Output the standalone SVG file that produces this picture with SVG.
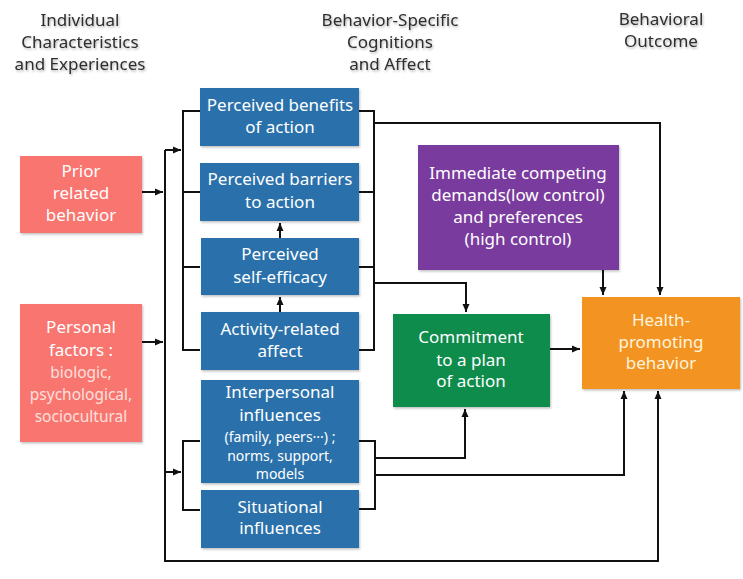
<svg xmlns="http://www.w3.org/2000/svg" width="743" height="579" viewBox="0 0 743 579">
<defs>
<marker id="ah" markerWidth="8" markerHeight="8" refX="8" refY="4" orient="auto" markerUnits="userSpaceOnUse">
<path d="M0,0.5 L8,4 L0,7.5 z" fill="#111"/>
</marker>
<filter id="sh" x="-10%" y="-10%" width="120%" height="120%">
<feDropShadow dx="1" dy="1.5" stdDeviation="1.2" flood-color="#000" flood-opacity="0.25"/>
</filter>
<filter id="tsh" x="-10%" y="-30%" width="120%" height="160%">
<feDropShadow dx="1" dy="1.5" stdDeviation="1" flood-color="#000" flood-opacity="0.3"/>
</filter>
<style>
text{font-family:"Noto Sans","Liberation Sans",sans-serif;text-anchor:middle}
.hd{font-size:17px;fill:#2e2e2e;filter:url(#tsh)}
.bt{font-size:17px;fill:#fff}
.sm{font-size:14px;fill:#fff}
.pk{font-size:15.5px;fill:#fde0dd}
.box{filter:url(#sh)}
.salmon{fill:#F8756F}
.blue{fill:#2B71AB}
.green{fill:#0C8C4C}
.orange{fill:#F39322}
.purple{fill:#7A3B9E}
.ln{fill:none;stroke:#111;stroke-width:2}
.ar{fill:none;stroke:#111;stroke-width:2;marker-end:url(#ah)}
</style>
</defs>
<rect width="743" height="579" fill="#fff"/>

<g id="headers">
<text class="hd" x="80" y="26">Individual</text>
<text class="hd" x="80" y="48">Characteristics</text>
<text class="hd" x="80" y="70">and Experiences</text>
<text class="hd" x="390" y="26">Behavior-Specific</text>
<text class="hd" x="390" y="48">Cognitions</text>
<text class="hd" x="390" y="70">and Affect</text>
<text class="hd" x="661" y="25">Behavioral</text>
<text class="hd" x="661" y="47">Outcome</text>
</g>

<g id="connectors">
<path class="ar" d="M142,192 H163"/>
<path class="ar" d="M142,342 H163"/>
<path class="ar" d="M165,150 V561 H658 V391"/>
<path class="ar" d="M165,150 H181"/>
<path class="ar" d="M165,472 H181"/>
<path class="ln" d="M200,111 H183 V350 H200 M183,192 H200 M183,267 H200"/>
<path class="ln" d="M200,441 H183 V510 H200"/>
<path class="ln" d="M359,111 H374 V350 H359 M359,192 H374 M359,267 H374"/>
<path class="ar" d="M374,123 H660 V295"/>
<path class="ar" d="M374,283 H466 V312"/>
<path class="ar" d="M603,270 V295"/>
<path class="ar" d="M280,238 V223"/>
<path class="ar" d="M280,312 V297"/>
<path class="ar" d="M550,349 H580"/>
<path class="ln" d="M359,441 H375 V509 H359"/>
<path class="ar" d="M375,458 H465 V409"/>
<path class="ar" d="M375,475 H624 V391"/>
</g>

<g id="prior">
<rect class="box salmon" x="20" y="156" width="122" height="77"/>
<text class="bt" x="81" y="177">Prior</text>
<text class="bt" x="81" y="199">related</text>
<text class="bt" x="81" y="221">behavior</text>
</g>

<g id="personal">
<rect class="box salmon" x="20" y="304" width="122" height="138"/>
<text class="bt" x="81" y="333">Personal</text>
<text class="bt" x="81" y="356">factors :</text>
<text class="pk" x="81" y="378">biologic,</text>
<text class="pk" x="81" y="400">psychological,</text>
<text class="pk" x="81" y="422">sociocultural</text>
</g>

<g id="benefits">
<rect class="box blue" x="200" y="88" width="159" height="58"/>
<text class="bt" x="280" y="111">Perceived benefits</text>
<text class="bt" x="280" y="133">of action</text>
</g>

<g id="barriers">
<rect class="box blue" x="200" y="163" width="159" height="58"/>
<text class="bt" x="280" y="185">Perceived barriers</text>
<text class="bt" x="280" y="208">to action</text>
</g>

<g id="selfefficacy">
<rect class="box blue" x="201" y="238" width="158" height="57"/>
<text class="bt" x="280" y="260">Perceived</text>
<text class="bt" x="280" y="283">self-efficacy</text>
</g>

<g id="activity">
<rect class="box blue" x="201" y="312" width="158" height="58"/>
<text class="bt" x="280" y="335">Activity-related</text>
<text class="bt" x="280" y="357">affect</text>
</g>

<g id="interpersonal">
<rect class="box blue" x="201" y="380" width="158" height="103"/>
<text class="bt" x="280" y="398">Interpersonal</text>
<text class="bt" x="280" y="421">influences</text>
<text class="sm" x="280" y="442">(family, peers···) ;</text>
<text class="sm" x="280" y="461">norms, support,</text>
<text class="sm" x="280" y="479">models</text>
</g>

<g id="situational">
<rect class="box blue" x="201" y="490" width="158" height="58"/>
<text class="bt" x="280" y="513">Situational</text>
<text class="bt" x="280" y="534">influences</text>
</g>

<g id="competing">
<rect class="box purple" x="418" y="145" width="201" height="125"/>
<text class="bt" x="518" y="179">Immediate competing</text>
<text class="bt" x="518" y="201">demands(low control)</text>
<text class="bt" x="518" y="223">and preferences</text>
<text class="bt" x="518" y="245">(high control)</text>
</g>

<g id="commitment">
<rect class="box green" x="393" y="314" width="157" height="93"/>
<text class="bt" x="471" y="343">Commitment</text>
<text class="bt" x="471" y="366">to a plan</text>
<text class="bt" x="471" y="387">of action</text>
</g>

<g id="health">
<rect class="box orange" x="582" y="297" width="158" height="92"/>
<text class="bt" x="661" y="326" style="fill:#fff3dc">Health-</text>
<text class="bt" x="661" y="348" style="fill:#fff3dc">promoting</text>
<text class="bt" x="661" y="369" style="fill:#fff3dc">behavior</text>
</g>
</svg>
